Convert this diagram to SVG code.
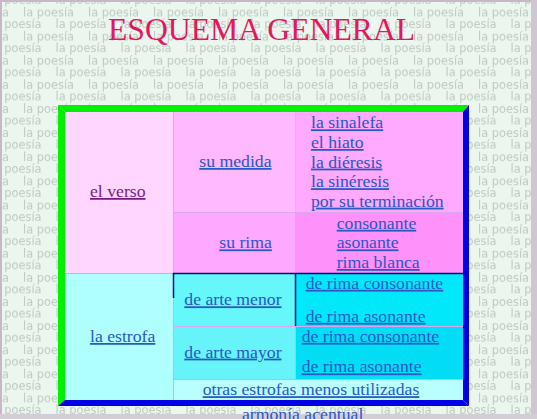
<svg xmlns="http://www.w3.org/2000/svg" width="537" height="419" viewBox="0 0 537 419">
<style>
.bgt{font-family:"DejaVu Sans",sans-serif;font-size:11.4px;fill:#c0c9c3}
.lk{font-family:"Liberation Serif","Times New Roman",serif;font-size:17.7px;fill:#2a58c6;text-decoration:underline}
.vis{fill:#7a1c86}
.grid{stroke:#dca6ee;stroke-width:1;fill:none}
.navy{stroke:#0c0c7a;stroke-width:1.5;fill:none}
</style>
<defs>
<pattern id="poesia" patternUnits="userSpaceOnUse" x="0" y="0" width="65" height="24.12">
<text class="bgt" x="-9.5" y="4">la poesía</text>
<text class="bgt" x="55.5" y="4">la poesía</text>
<text class="bgt" x="-9.5" y="28.12">la poesía</text>
<text class="bgt" x="55.5" y="28.12">la poesía</text>
<text class="bgt" x="23" y="16.06">la poesía</text>
<text class="bgt" x="-42" y="16.06">la poesía</text>
</pattern>
</defs>
<rect x="0" y="0" width="537" height="419" fill="#c9b6c9"/>
<rect x="2" y="2" width="529" height="412" fill="#eaf6ee"/>
<rect x="2" y="2" width="529" height="412" fill="url(#poesia)"/>
<rect x="531" y="0" width="6" height="419" fill="#cec7d1"/>
<rect x="0" y="414" width="537" height="5" fill="#d3cdd6"/>
<g id="title">
<text x="108" y="40" font-family="'Liberation Serif','Times New Roman',serif" font-size="31.7" fill="#e6165c">ESQUEMA GENERAL</text>
</g>
<g id="frame">
<polygon points="58,105 469,105 463,112 65,112" fill="#00f000"/>
<polygon points="58,105 65,112 65,400 58,406" fill="#00f000"/>
<polygon points="469,105 469,406 463,400 463,112" fill="#0000e6"/>
<polygon points="58,406 469,406 463,400 65,400" fill="#0000e6"/>
</g>
<g id="el-verso">
<rect x="65" y="112" width="108" height="161" fill="#ffd6ff"/>
<text class="lk vis" x="90" y="197">el verso</text>
</g>
<g id="su-medida">
<rect x="173" y="112" width="122" height="100" fill="#ffb9ff"/>
<text class="lk" x="199.3" y="167">su medida</text>
</g>
<g id="medida-items">
<rect x="295" y="112" width="168" height="100" fill="#ffaaff"/>
<text class="lk" x="311" y="128.3">la sinalefa</text>
<text class="lk" x="311" y="148">el hiato</text>
<text class="lk" x="311" y="167.6">la diéresis</text>
<text class="lk" x="311" y="187.2">la sinéresis</text>
<text class="lk" x="311" y="206.7">por su terminación</text>
</g>
<g id="su-rima">
<rect x="173" y="212" width="122" height="61" fill="#ffa8ff"/>
<text class="lk" x="219.3" y="248.4">su rima</text>
</g>
<g id="rima-items">
<rect x="295" y="212" width="168" height="61" fill="#ff92fa"/>
<text class="lk" x="336.7" y="228.8">consonante</text>
<text class="lk" x="336.7" y="248.4">asonante</text>
<text class="lk" x="336.7" y="268">rima blanca</text>
</g>
<g id="la-estrofa">
<rect x="65" y="273" width="108" height="127" fill="#b0ffff"/>
<text class="lk" x="90" y="342">la estrofa</text>
</g>
<g id="arte-menor">
<rect x="173" y="273" width="122" height="53" fill="#66f7fa"/>
<text class="lk" x="184.3" y="305.3">de arte menor</text>
</g>
<g id="arte-menor-rima">
<rect x="295" y="273" width="168" height="53" fill="#00e8fa"/>
<text class="lk" x="305.7" y="288.8">de rima consonante</text>
<text class="lk" x="305.7" y="321.8">de rima asonante</text>
</g>
<g id="arte-mayor">
<rect x="173" y="326" width="122" height="53" fill="#66f4fa"/>
<text class="lk" x="184.3" y="357.6">de arte mayor</text>
</g>
<g id="arte-mayor-rima">
<rect x="295" y="326" width="168" height="53" fill="#00ddf4"/>
<text class="lk" x="301.7" y="341.8">de rima consonante</text>
<text class="lk" x="301.7" y="372.4">de rima asonante</text>
</g>
<g id="otras-estrofas">
<rect x="173" y="379" width="290" height="21" fill="#b9ffff"/>
<text class="lk" x="202.7" y="395.2">otras estrofas menos utilizadas</text>
</g>
<g id="cell-lines">
<path class="grid" d="M173.5,112V273M173,212.5H463M65,273.5H173M173.5,298V400M173,326.5H463M295.5,326V379M173,379.5H463"/>
<path class="grid" stroke-opacity="0.5" d="M295.5,112V273"/>
<path class="navy" d="M173,273.5H463M173.5,273V298M295.5,273V326"/>
</g>
<g id="armonia">
<text class="lk" x="242" y="420">armonía acentual</text>
</g>
</svg>
